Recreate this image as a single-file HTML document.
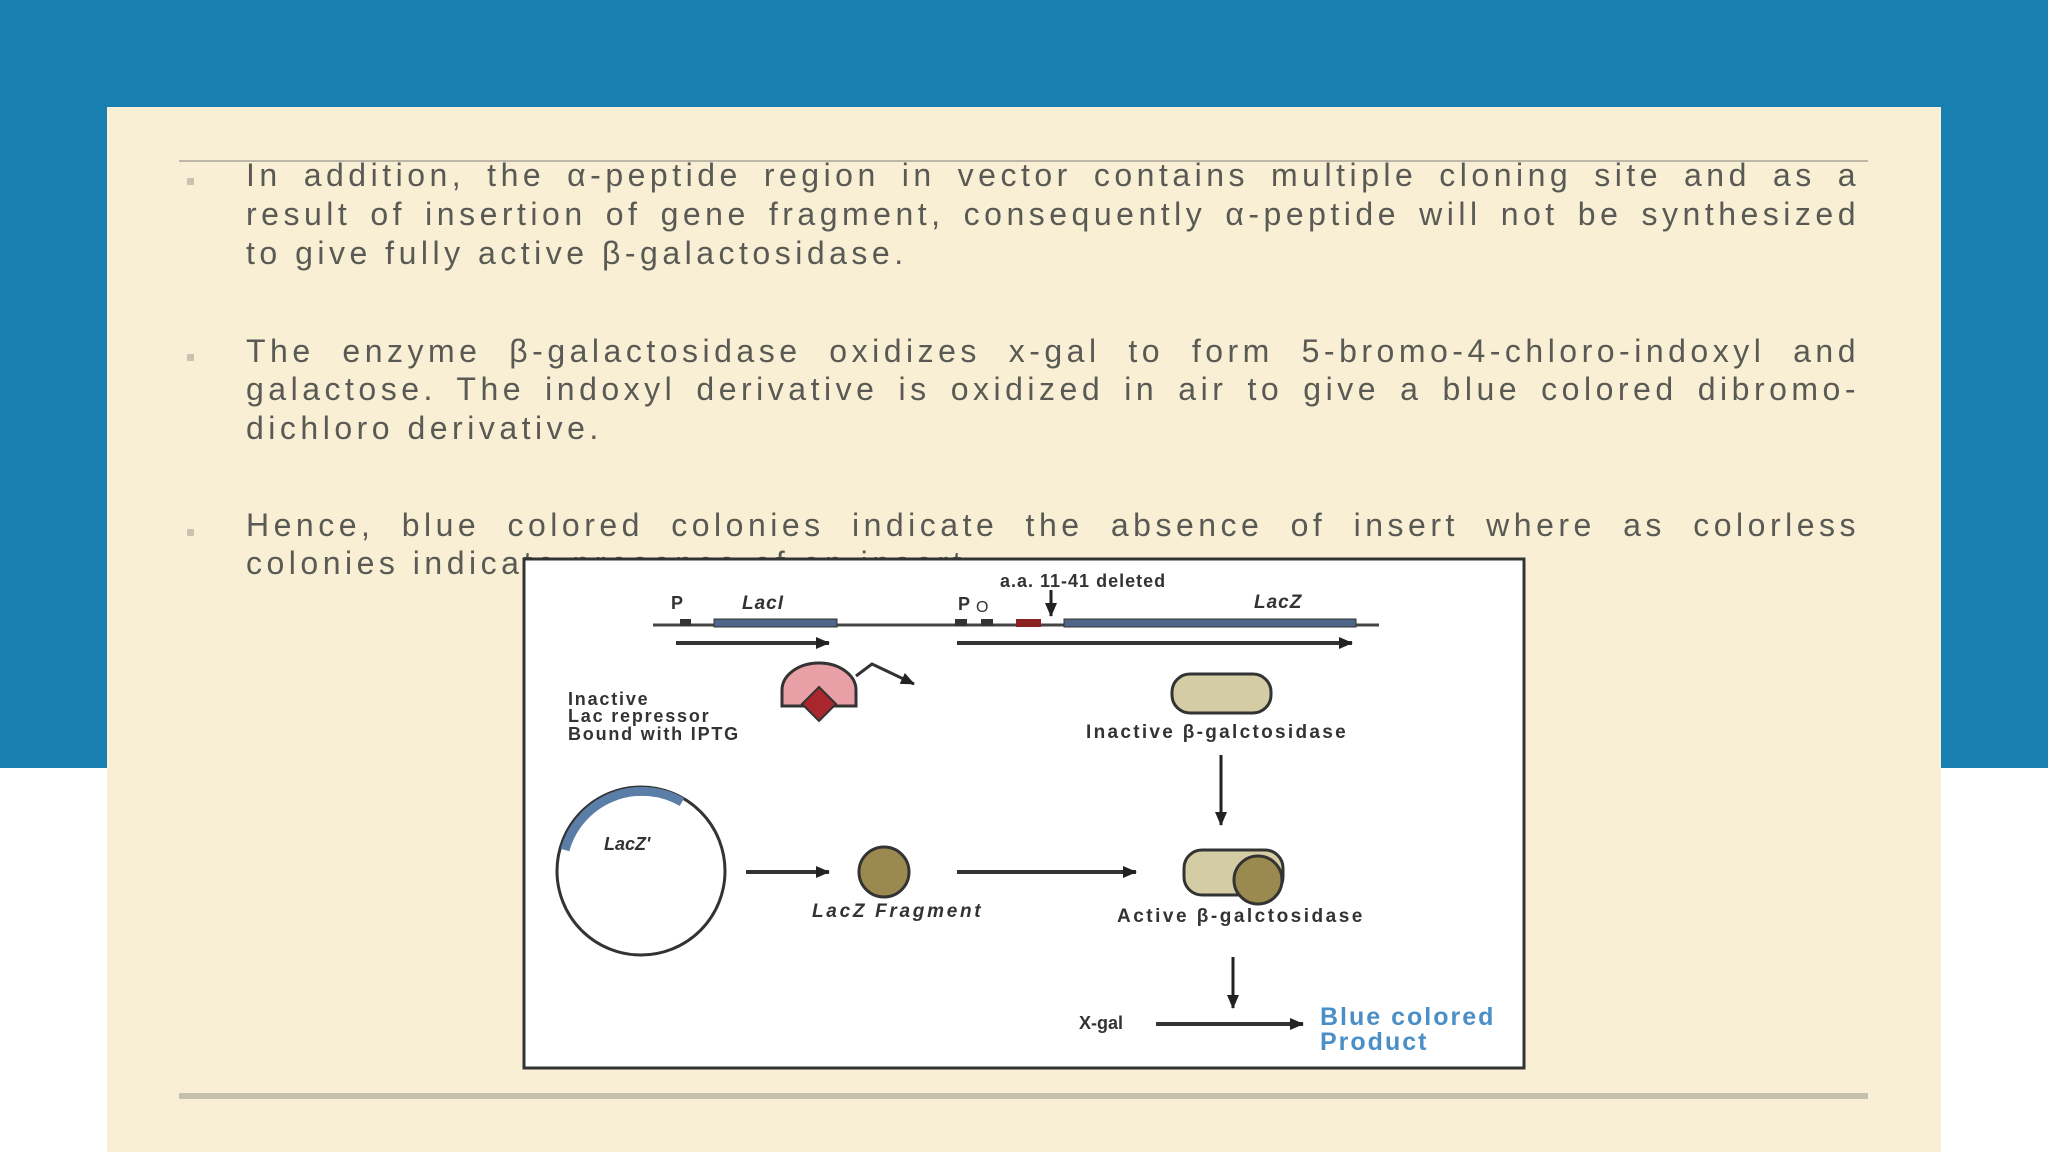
<!DOCTYPE html>
<html><head><meta charset="utf-8"><style>
body{margin:0;width:2048px;height:1152px;position:relative;overflow:hidden;background:#fff;font-family:"Liberation Sans",sans-serif}
#blue{position:absolute;left:0;top:0;width:2048px;height:768px;background:#1780b0}
#panel{position:absolute;left:107px;top:107px;width:1834px;height:1045px;background:#f8efd5}
.hl{position:absolute;left:179px;width:1689px}
.ln{position:absolute;left:246px;width:1614px;font-size:32px;color:#5a5a55;letter-spacing:4.5px;white-space:nowrap;text-align:justify;text-align-last:justify;line-height:36px}
.last{text-align-last:left}
.b{position:absolute;left:187px;width:7px;height:7px;background:#c9c2b0;border-radius:1px}
</style></head><body>
<div id="blue"></div>
<div id="panel"></div>
<div class="hl" style="top:160px;height:2px;background:#bdb7a8"></div>
<div class="hl" style="top:1093px;height:6px;background:#c5bfae"></div>
<div class="b" style="top:178px"></div>
<div class="b" style="top:354px"></div>
<div class="b" style="top:529px"></div>
<div class="ln" style="top:157px">In addition, the α-peptide region in vector contains multiple cloning site and as a</div>
<div class="ln" style="top:196px">result of insertion of gene fragment, consequently α-peptide will not be synthesized</div>
<div class="ln last" style="top:235px">to give fully active β-galactosidase.</div>
<div class="ln" style="top:333px">The enzyme β-galactosidase oxidizes x-gal to form 5-bromo-4-chloro-indoxyl and</div>
<div class="ln" style="top:371px">galactose. The indoxyl derivative is oxidized in air to give a blue colored dibromo-</div>
<div class="ln last" style="top:410px">dichloro derivative.</div>
<div class="ln" style="top:507px">Hence, blue colored colonies indicate the absence of insert where as colorless</div>
<div class="ln last" style="top:545px">colonies indicate presence of an insert.</div>
<svg style="position:absolute;left:0;top:0" width="2048" height="1152" font-family="Liberation Sans" font-weight="bold">
<defs><marker id="A" markerWidth="14" markerHeight="12" refX="13" refY="6" orient="auto" markerUnits="userSpaceOnUse"><path d="M0,0L14,6L0,12z" fill="#222"/></marker></defs>
<rect x="524" y="559" width="1000" height="509" fill="#fff" stroke="#333" stroke-width="3"/>
<g fill="#333" font-size="18" letter-spacing="1">
<text x="1000" y="587">a.a. 11-41 deleted</text>
<text x="671" y="609" font-size="18">P</text>
<text x="742" y="609" font-style="italic" font-size="19">LacI</text>
<text x="958" y="610" font-size="18">P</text><text x="976" y="612" font-size="16" font-weight="normal">O</text>
<text x="1254" y="608" font-style="italic" font-size="19">LacZ</text>
</g>
<line x1="653" y1="625" x2="1379" y2="625" stroke="#444" stroke-width="3"/>
<rect x="680" y="619" width="11" height="7" fill="#333"/>
<rect x="714" y="619" width="123" height="8" fill="#4e6688" stroke="#333"/>
<rect x="955" y="619" width="12" height="7" fill="#333"/>
<rect x="981" y="619" width="12" height="7" fill="#333"/>
<rect x="1016" y="619" width="25" height="8" fill="#8b2222"/>
<rect x="1064" y="619" width="292" height="8" fill="#4e6688" stroke="#333"/>
<line x1="1051" y1="590" x2="1051" y2="616" stroke="#222" stroke-width="3" marker-end="url(#A)"/>
<line x1="676" y1="643" x2="829" y2="643" stroke="#333" stroke-width="4" marker-end="url(#A)"/>
<line x1="957" y1="643" x2="1352" y2="643" stroke="#333" stroke-width="4" marker-end="url(#A)"/>
<path d="M782,706 L782,690 A37,27 0 0 1 856,690 L856,706 Z" fill="#e8a0a6" stroke="#333" stroke-width="3"/>
<path d="M819,687 L836,704 L819,721 L802,704 Z" fill="#a8262c" stroke="#333" stroke-width="2"/>
<path d="M856,676 L872,664 L914,684" fill="none" stroke="#333" stroke-width="3" marker-end="url(#A)"/>
<g fill="#333" font-size="18" letter-spacing="1.8"><text x="568" y="705">Inactive</text><text x="568" y="722">Lac repressor</text><text x="568" y="740">Bound with IPTG</text></g>
<rect x="1172" y="674" width="99" height="39" rx="18" fill="#d4cca4" stroke="#333" stroke-width="3"/>
<text x="1086" y="738" fill="#333" font-size="19" letter-spacing="2.3">Inactive β-galctosidase</text>
<line x1="1221" y1="755" x2="1221" y2="825" stroke="#222" stroke-width="3" marker-end="url(#A)"/>
<circle cx="641" cy="871" r="84" fill="#fff" stroke="#333" stroke-width="3"/>
<path d="M565,850 A80,80 0 0 1 682,802" fill="none" stroke="#5a7ea8" stroke-width="9"/>
<text x="604" y="850" fill="#333" font-size="18" font-style="italic">LacZ'</text>
<line x1="746" y1="872" x2="829" y2="872" stroke="#333" stroke-width="4" marker-end="url(#A)"/>
<circle cx="884" cy="872" r="25" fill="#9b8a50" stroke="#333" stroke-width="3"/>
<text x="812" y="917" fill="#333" font-size="19" font-style="italic" letter-spacing="2.7">LacZ Fragment</text>
<line x1="957" y1="872" x2="1136" y2="872" stroke="#333" stroke-width="4" marker-end="url(#A)"/>
<rect x="1184" y="850" width="99" height="45" rx="18" fill="#d4cca4" stroke="#333" stroke-width="3"/>
<circle cx="1258" cy="880" r="24" fill="#9b8a50" stroke="#333" stroke-width="3"/>
<text x="1117" y="922" fill="#333" font-size="19" letter-spacing="2.5">Active β-galctosidase</text>
<line x1="1233" y1="957" x2="1233" y2="1008" stroke="#222" stroke-width="3" marker-end="url(#A)"/>
<text x="1079" y="1029" fill="#333" font-size="18">X-gal</text>
<line x1="1156" y1="1024" x2="1303" y2="1024" stroke="#333" stroke-width="4" marker-end="url(#A)"/>
<g fill="#4b8fc6" font-size="25" letter-spacing="2"><text x="1320" y="1025">Blue colored</text><text x="1320" y="1050">Product</text></g>
</svg>
</body></html>
